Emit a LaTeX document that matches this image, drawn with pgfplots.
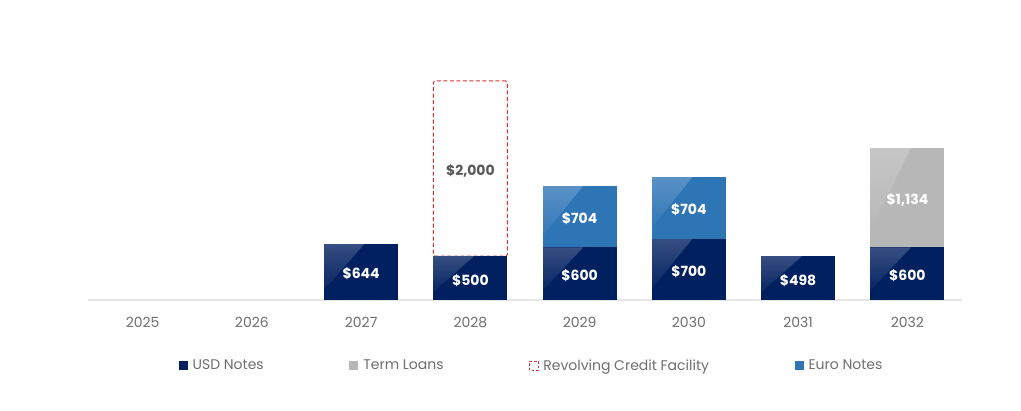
\documentclass[border=0pt]{standalone}
\usepackage{pgfplots}
\pgfplotsset{compat=1.18}
\usetikzlibrary{fadings}
\usepackage{fontspec}
\setmainfont{Poppins}
\definecolor{usd}{HTML}{002060}
\definecolor{euro}{HTML}{2E75B6}
\definecolor{term}{HTML}{B7B7B7}
\definecolor{rcf}{HTML}{D83232}
\definecolor{txt}{HTML}{6E6E6E}
\definecolor{dtxt}{HTML}{595959}
\definecolor{baseln}{HTML}{E6E6E6}
\begin{tikzfadingfrompicture}[name=gloss]
  \fill[transparent!100] (-50bp,-50bp) rectangle (50bp,50bp);
  \shade[top color=transparent!15, bottom color=transparent!90]
    (-25bp,25bp) -- (2.5bp,25bp) -- (-25bp,-16bp) -- cycle;
\end{tikzfadingfrompicture}
\pgfplotsset{
  common/.style={
    at={(88pt,111pt)}, anchor=south west, scale only axis,
    width=874pt, height=263pt,
    xmin=-0.5, xmax=7.5, ymin=0, ymax=3000,
  },
  bars/.style={common, hide axis, ybar stacked, bar width=74pt},
  glossy/.style={postaction={fill=white, fill opacity=0.25, path fading=gloss, fit fading=true}},
  usdbar/.style={fill=usd, draw=none, glossy},
  termbar/.style={fill=term, draw=none, glossy},
  eurobar/.style={fill=euro, draw=none, glossy},
}
\begin{document}
\fontsize{14pt}{17pt}\selectfont
\begin{tikzpicture}
\path[use as bounding box] (0,0) rectangle (1021pt,411pt);
% frame: base line, year labels and legend
\begin{axis}[common,
  axis x line=bottom, axis y line=none,
  x axis line style={draw=baseln, line width=1.5pt, -},
  xtick={0,...,7},
  xticklabels={2025,2026,2027,2028,2029,2030,2031,2032},
  xtick style={draw=none}, major tick length=0pt,
  ytick=\empty,
  xticklabel style={font=\fontsize{14pt}{17pt}\selectfont, text=txt, yshift=-12pt},
  legend columns=-1,
  legend style={at={(0.1,-0.25)}, anchor=west, draw=none, fill=none,
    font=\fontsize{14pt}{17pt}\selectfont, text=txt,
    /tikz/every even column/.append style={column sep=83.5pt}},
  legend image code/.code={\fill[#1, draw=none] (0pt,-4.5pt) rectangle (9pt,4.5pt); \path (12pt,0pt);},
]
\addlegendimage{fill=usd, draw=none}
\addlegendentry{USD Notes}
\addlegendimage{fill=term, draw=none}
\addlegendentry{Term Loans}
\addlegendimage{legend image code/.code={\draw[draw=rcf, line width=0.9pt, dash pattern=on 2.5pt off 2pt] (0.5pt,-4.5pt) rectangle (9.5pt,4.5pt); \path (12pt,0pt);}}
\addlegendentry{Revolving Credit Facility}
\addlegendimage{fill=euro, draw=none}
\addlegendentry{Euro Notes}
\end{axis}
% 2027
\begin{axis}[bars]
\addplot[usdbar] coordinates {(2,644)};
\end{axis}
% 2028: USD Notes and the Revolving Credit Facility above them
\begin{axis}[bars]
\addplot[usdbar] coordinates {(3,500)};
\addplot[draw=rcf, fill=white, line width=0.9pt, dash pattern=on 4pt off 2.5pt, rounded corners=1.5pt] coordinates {(3,2000)};
\end{axis}
% 2029
\begin{axis}[bars]
\addplot[usdbar] coordinates {(4,600)};
\addplot[eurobar] coordinates {(4,704)};
\end{axis}
% 2030
\begin{axis}[bars]
\addplot[usdbar] coordinates {(5,700)};
\addplot[eurobar] coordinates {(5,704)};
\end{axis}
% 2031
\begin{axis}[bars]
\addplot[usdbar] coordinates {(6,498)};
\end{axis}
% 2032
\begin{axis}[bars]
\addplot[usdbar] coordinates {(7,600)};
\addplot[termbar] coordinates {(7,1134)};
\end{axis}
% value labels
\begin{axis}[common, hide axis,
  nodes near coords, point meta=explicit symbolic,
  every node near coord/.append style={anchor=center, yshift=-2pt, font=\fontsize{14pt}{17pt}\selectfont\bfseries},
]
\addplot[draw=none, mark=none, every node near coord/.append style={text=white}] coordinates {
 (2,322) [\$644]
 (3,250) [\$500]
 (4,300) [\$600]
 (4,952) [\$704]
 (5,350) [\$700]
 (5,1052) [\$704]
 (6,249) [\$498]
 (7,300) [\$600]
 (7,1167) [\$1,134]
};
\addplot[draw=none, mark=none, every node near coord/.append style={text=dtxt}] coordinates {
 (3,1500) [\$2,000]
};
\end{axis}
\end{tikzpicture}
\end{document}
